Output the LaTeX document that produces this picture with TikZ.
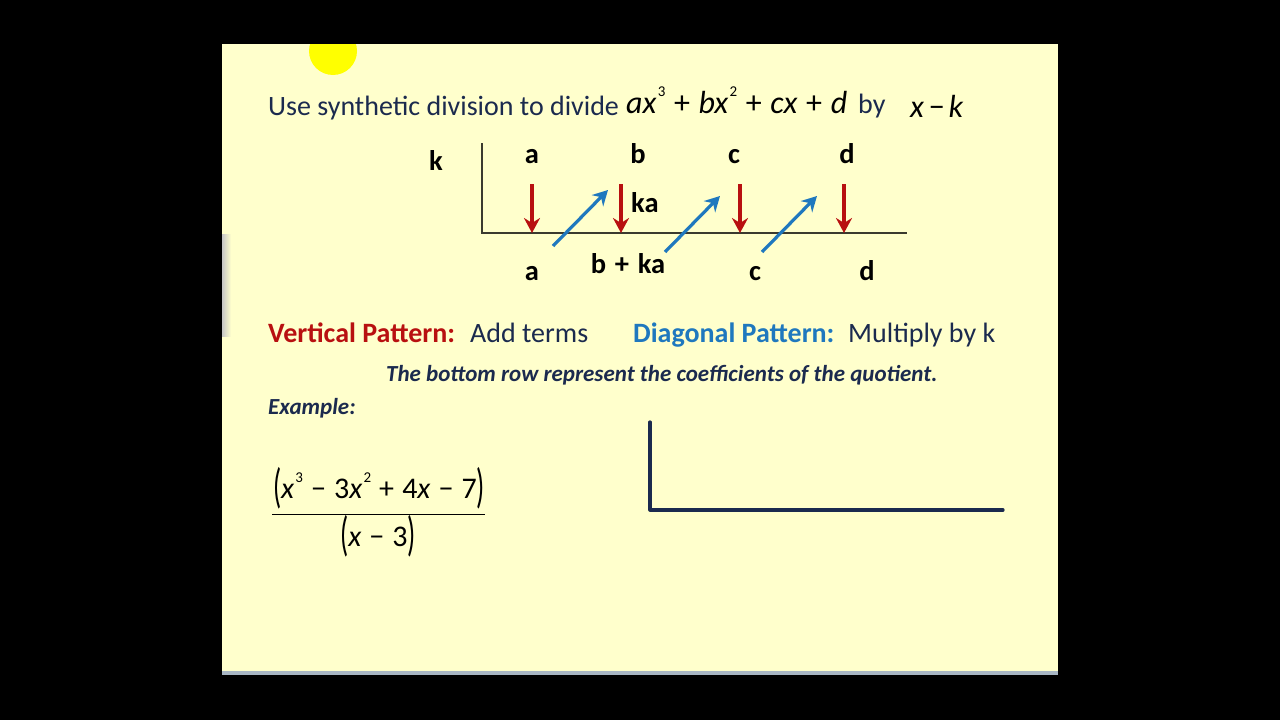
\documentclass[tikz,border=0pt]{standalone}
\usepackage{fontspec}
\setmainfont{Carlito}
\usetikzlibrary{arrows.meta}
\definecolor{slidebg}{HTML}{FFFFCC}
\definecolor{navy}{HTML}{1B2A4E}
\definecolor{pred}{HTML}{B81010}
\definecolor{pblue}{HTML}{1F78BE}
\definecolor{axisc}{HTML}{3A3A2E}
\definecolor{sun}{HTML}{FFFF00}
\definecolor{edgec}{HTML}{A9B7C4}
\newcommand\spx[1]{\hspace{0.04em}\raisebox{0.52em}{\fontsize{15}{15}\selectfont\upshape #1}}
\newcommand\bigpar[1]{\raisebox{-0.14em}{\scalebox{0.9}[1.6]{#1}}}
\newcommand\opr[1]{\hspace{0.27em}\upshape#1\hspace{0.27em}}
\tikzset{
  txt/.style={inner sep=0pt, text=navy, font=\fontsize{28}{32}\selectfont},
  lbl/.style={inner sep=0pt, text=black, font=\fontsize{28.5}{32}\selectfont\bfseries},
  mth/.style={inner sep=0pt, text=black, font=\fontsize{32}{36}\selectfont},
  redarrow/.style={draw=pred, line width=3.2pt, -{Stealth[length=15pt,width=16pt,inset=5pt]}},
  bluearrow/.style={draw=pblue, line width=3.2pt, -{Stealth[length=15pt,width=16pt,inset=5pt]}},
  axisline/.style={draw=axisc, line width=1.3pt},
  lshape/.style={draw=navy, line width=3.2pt, line cap=round, line join=round}
}
\begin{document}
\begin{tikzpicture}[x=1pt,y=-1pt]
\useasboundingbox (0,0) rectangle (1280,720);
\fill[black] (0,0) rectangle (1280,720);
\fill[slidebg] (222,44) rectangle (1058,671);
\shade[left color=black!22, right color=slidebg] (222,234) rectangle (231,336);
\fill[edgec] (222,671) rectangle (1058,675);
\begin{scope}
  \clip (222,44) rectangle (1058,671);
  \fill[sun] (333,51) circle[radius=24pt];
\end{scope}

% title
\node[txt, anchor=base west] (title) at (268,115) {Use synthetic division to divide};
\node[mth, anchor=base west] (poly) at (626,113) {\itshape ax\spx{3}\opr{+}\itshape bx\spx{2}\opr{+}\itshape cx\opr{+}\itshape d};
\node[txt, anchor=base west] (by) at (858,113) {by};
\node[mth, anchor=base west] (divisor) at (910,117) {\itshape x\hspace{0.15em}\upshape−\hspace{0.12em}\itshape k};

% synthetic division scheme
\node[lbl, anchor=base] (k) at (436,170) {k};
\node[lbl, anchor=base] (ta) at (532,163) {a};
\node[lbl, anchor=base] (tb) at (638,163) {b};
\node[lbl, anchor=base] (tc) at (734,163) {c};
\node[lbl, anchor=base] (td) at (847,163) {d};
\node[lbl, anchor=base west] (ka) at (631,212) {ka};
\node[lbl, anchor=base] (ba) at (532,280) {a};
\node[lbl, anchor=base] (bbka) at (628,273) {b\hspace{0.08em} + \hspace{0.08em}ka};
\node[lbl, anchor=base] (bc) at (755,280) {c};
\node[lbl, anchor=base] (bd) at (867,280) {d};

\coordinate (vtop) at (482,143);
\coordinate (corner) at (482,233);
\coordinate (hend) at (907,233);
\draw[axisline] (vtop) -- (corner) -- (hend);

\coordinate (r1s) at (532,184); \coordinate (r1e) at (532,233);
\coordinate (r2s) at (621,184); \coordinate (r2e) at (621,233);
\coordinate (r3s) at (740,184); \coordinate (r3e) at (740,233);
\coordinate (r4s) at (844,184); \coordinate (r4e) at (844,233);
\draw[redarrow] (r1s) -- (r1e);
\draw[redarrow] (r2s) -- (r2e);
\draw[redarrow] (r3s) -- (r3e);
\draw[redarrow] (r4s) -- (r4e);

\coordinate (b1s) at (553,246); \coordinate (b1e) at (608,190);
\coordinate (b2s) at (665,252); \coordinate (b2e) at (720,196);
\coordinate (b3s) at (762,252); \coordinate (b3e) at (817,196);
\draw[bluearrow] (b1s) -- (b1e);
\draw[bluearrow] (b2s) -- (b2e);
\draw[bluearrow] (b3s) -- (b3e);

% patterns
\node[txt, anchor=base west, text=pred, font=\fontsize{28}{32}\selectfont\bfseries] (vp) at (268,342) {Vertical Pattern:};
\node[txt, anchor=base west] (addt) at (470,342) {Add terms};
\node[txt, anchor=base west, text=pblue, font=\fontsize{28}{32}\selectfont\bfseries] (dp) at (633,342) {Diagonal Pattern:};
\node[txt, anchor=base west] (mult) at (848,342) {Multiply by k};

\node[txt, anchor=base west, font=\fontsize{23}{26}\selectfont\bfseries\itshape] (note) at (386,381) {The bottom row represent the coefficients of the quotient.};
\node[txt, anchor=base west, font=\fontsize{23}{26}\selectfont\bfseries\itshape] (ex) at (268,414) {Example:};

% example fraction
\node[mth, anchor=base, font=\fontsize{30}{33}\selectfont] (num) at (379,498) {\bigpar{(}\itshape x\spx{3}\opr{−}3\itshape x\spx{2}\opr{+}4\itshape x\opr{−}7\bigpar{)}};
\coordinate (barl) at (272,514);
\coordinate (barr) at (485,514);
\draw[black, line width=1pt] (barl) -- (barr);
\node[mth, anchor=base, font=\fontsize{30}{33}\selectfont] (den) at (378,546) {\bigpar{(}\itshape x\opr{−}3\bigpar{)}};

% empty synthetic division frame
\coordinate (ltop) at (650,422);
\coordinate (lcorner) at (650,510);
\coordinate (lend) at (1003,510);
\draw[lshape] (ltop) -- (lcorner) -- (lend);
\end{tikzpicture}
\end{document}
